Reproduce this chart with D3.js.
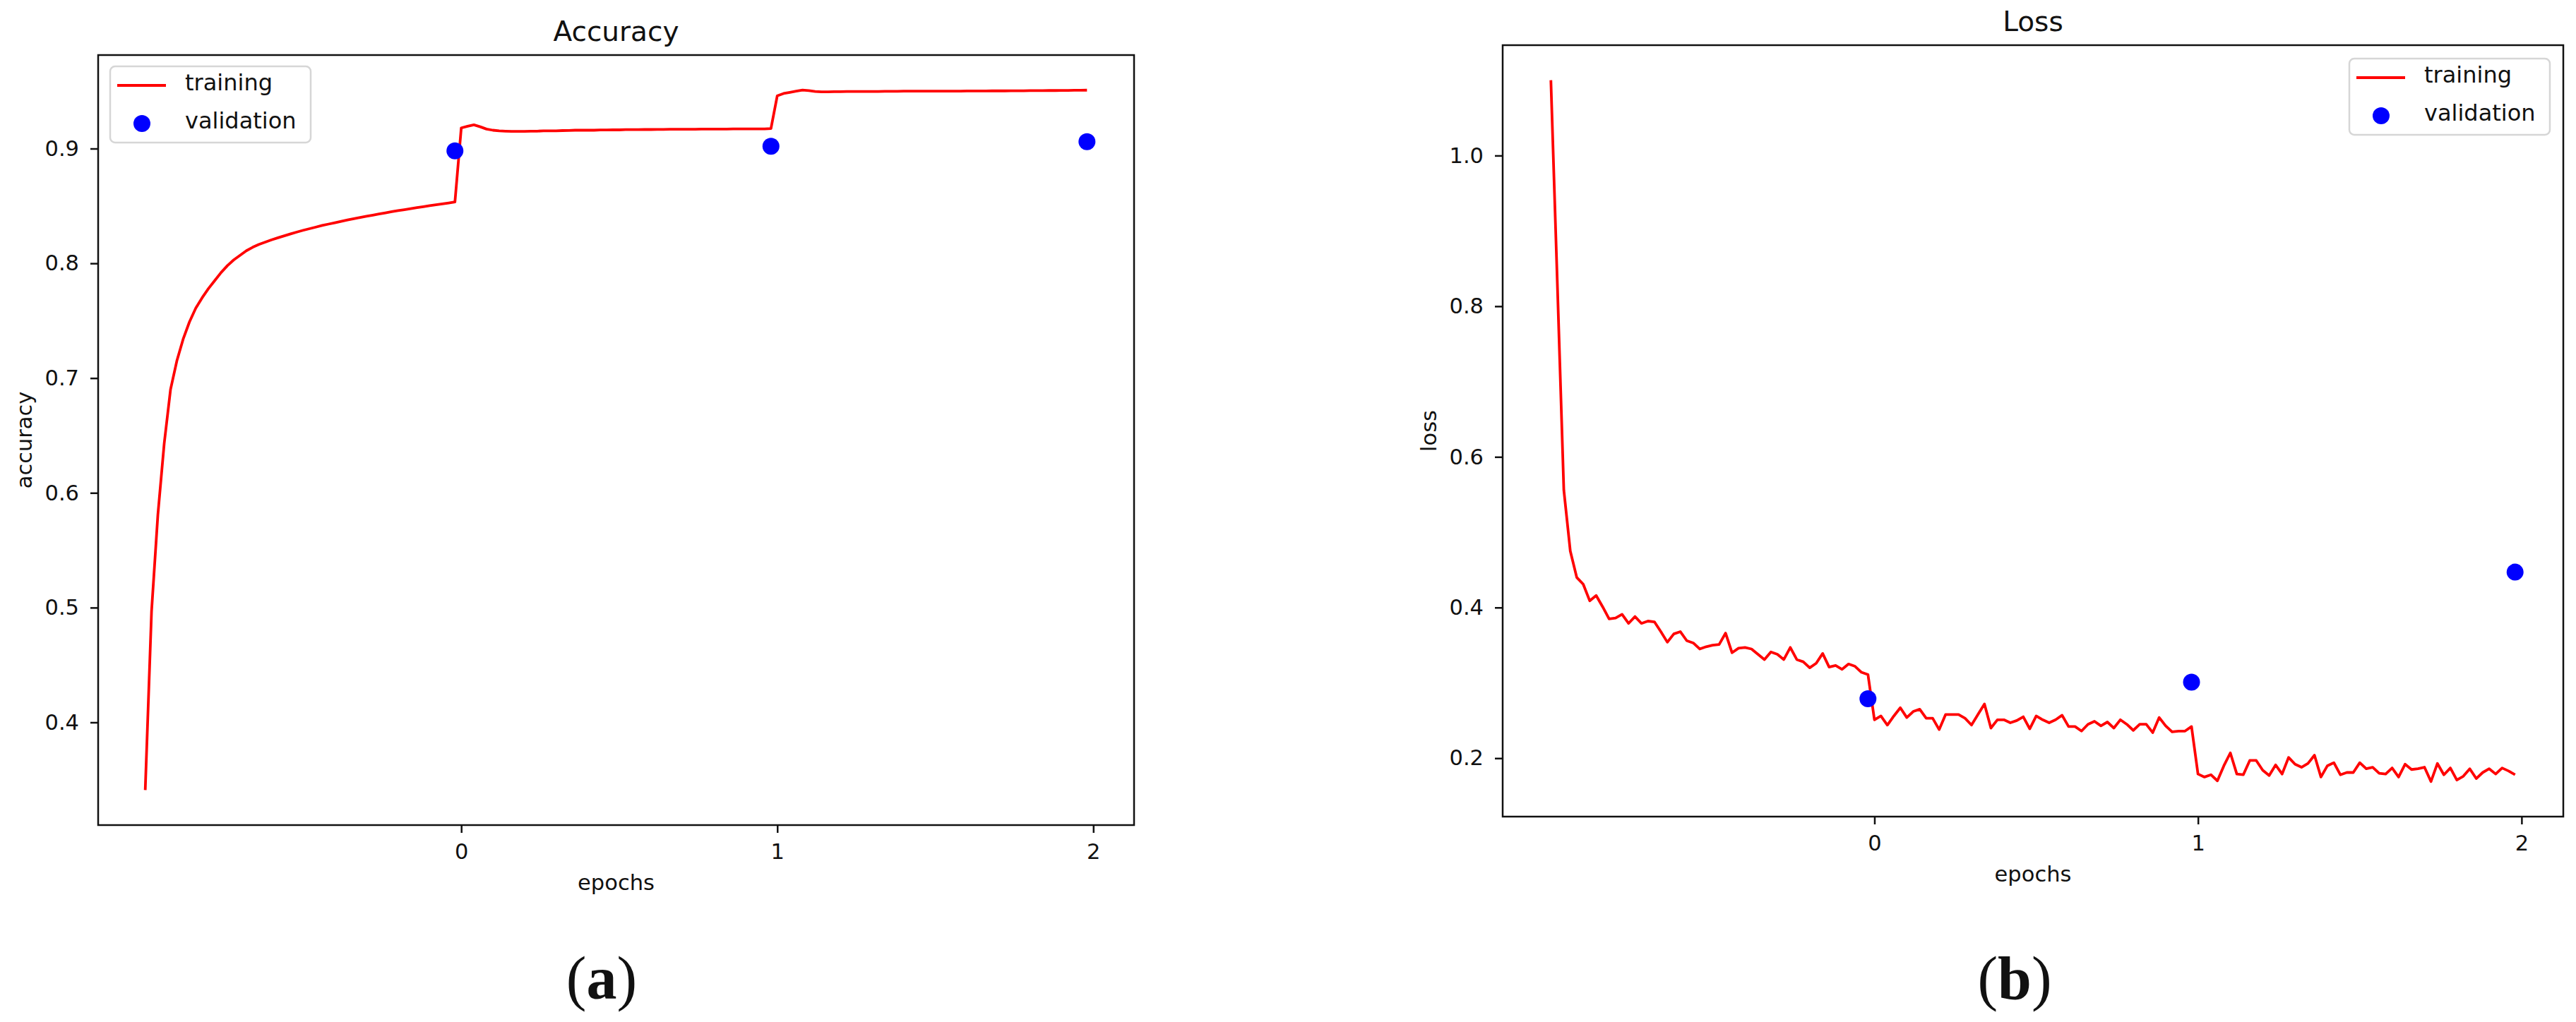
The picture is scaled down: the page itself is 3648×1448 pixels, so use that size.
<!DOCTYPE html>
<html><head><meta charset="utf-8">
<script src="https://cdn.jsdelivr.net/npm/d3@7"></script>
<style>
body{margin:0;background:#fff}
svg{display:block}
text{font-family:"DejaVu Sans",sans-serif;fill:#111}
</style>
</head><body>
<svg id="chart" width="3648" height="1448"></svg>
<script>
// ---------------- data ----------------
const stepsPerEpoch = 50;
const epochTicks = [0, 1, 2];
const validationEpochs = [-0.02, 0.98, 1.98];

const accTraining = [
  0.341,0.497,0.581,0.643,0.690,0.715,0.734,0.749,0.761,0.770,
  0.778,0.785,0.792,0.798,0.803,0.807,0.811,0.814,0.8165,0.8185,
  0.8205,0.8223,0.824,0.8257,0.8273,0.8288,0.8302,0.8316,0.833,0.8342,
  0.8354,0.8366,0.8378,0.8389,0.84,0.841,0.842,0.843,0.844,0.845,
  0.8459,0.8468,0.8477,0.8486,0.8494,0.8502,0.851,0.8518,0.8526,0.8535,
  0.918,0.9195,0.9207,0.919,0.917,0.916,0.9155,0.9152,0.915,0.915,
  0.915,0.9152,0.9152,0.9155,0.9155,0.9155,0.9157,0.9158,0.916,0.916,
  0.916,0.916,0.9162,0.9162,0.9163,0.9163,0.9165,0.9165,0.9165,0.9166,
  0.9166,0.9167,0.9167,0.9168,0.9168,0.9168,0.9169,0.9169,0.917,0.917,
  0.917,0.917,0.917,0.9171,0.9171,0.9171,0.9172,0.9172,0.9172,0.9175,
  0.946,0.948,0.949,0.950,0.951,0.9505,0.9498,0.9495,0.9495,0.9496,
  0.9496,0.9497,0.9497,0.9497,0.9498,0.9498,0.9498,0.9499,0.9499,0.9499,
  0.9500,0.9500,0.9500,0.9500,0.9500,0.9501,0.9501,0.9501,0.9501,0.9501,
  0.9502,0.9502,0.9502,0.9502,0.9503,0.9503,0.9503,0.9504,0.9504,0.9504,
  0.9505,0.9505,0.9505,0.9506,0.9506,0.9507,0.9507,0.9508,0.9508,0.9509
];
const accValidation = [0.898, 0.902, 0.906];

const lossTraining = [
  1.100,0.830,0.556,0.475,0.440,0.431,0.409,0.416,0.401,0.385,
  0.386,0.391,0.379,0.388,0.379,0.382,0.381,0.368,0.354,0.365,
  0.368,0.356,0.353,0.345,0.348,0.350,0.351,0.366,0.340,0.346,
  0.347,0.345,0.338,0.331,0.341,0.338,0.331,0.347,0.331,0.328,
  0.320,0.326,0.339,0.321,0.323,0.318,0.325,0.322,0.314,0.311,
  0.251,0.256,0.244,0.256,0.267,0.254,0.262,0.265,0.253,0.253,
  0.238,0.258,0.258,0.258,0.253,0.244,0.258,0.272,0.240,0.251,
  0.251,0.247,0.250,0.255,0.239,0.256,0.251,0.247,0.251,0.257,
  0.242,0.242,0.236,0.245,0.249,0.243,0.248,0.240,0.251,0.245,
  0.237,0.245,0.245,0.234,0.254,0.243,0.235,0.236,0.236,0.242,
  0.179,0.175,0.178,0.170,0.190,0.207,0.179,0.178,0.197,0.197,
  0.184,0.177,0.191,0.179,0.201,0.192,0.188,0.193,0.204,0.175,
  0.190,0.194,0.178,0.181,0.181,0.194,0.186,0.188,0.180,0.179,
  0.187,0.175,0.192,0.185,0.186,0.188,0.169,0.193,0.178,0.187,
  0.171,0.176,0.186,0.173,0.181,0.186,0.179,0.187,0.183,0.178
];
const lossValidation = [0.279, 0.301, 0.447];

const accTicks = [0.4, 0.5, 0.6, 0.7, 0.8, 0.9];
const lossTicks = [0.2, 0.4, 0.6, 0.8, 1.0];
const legendLabels = ["training", "validation"];
const titles = ["Accuracy", "Loss"];
const yLabels = ["accuracy", "loss"];
const xLabel = "epochs";
const captions = ["a", "b"];

// ---------------- layout ----------------
const svg = d3.select("#chart");
const RED = "#ff0000", BLUE = "#0000ff", INK = "#111";

const panels = [
  {train: accTraining, val: accValidation, ticks: accTicks, title: titles[0], ylabel: yLabels[0],
   caption: captions[0], box: {l: 139, r: 1606, t: 78, b: 1169}, legend: "left", capX: 852},
  {train: lossTraining, val: lossValidation, ticks: lossTicks, title: titles[1], ylabel: yLabels[1],
   caption: captions[1], box: {l: 2128, r: 3630, t: 64, b: 1157}, legend: "right", capX: 2853}
];

function padded(ext) {
  const m = (ext[1] - ext[0]) * 0.05;
  return [ext[0] - m, ext[1] + m];
}

panels.forEach(p => {
  const B = p.box;
  const trainX = p.train.map((_, i) => i / stepsPerEpoch - 1);
  const allX = trainX.concat(validationEpochs);
  const allY = p.train.concat(p.val);
  const x = d3.scaleLinear().domain(padded(d3.extent(allX))).range([B.l, B.r]);
  const y = d3.scaleLinear().domain(padded(d3.extent(allY))).range([B.b, B.t]);

  const g = svg.append("g");

  // axes
  const ax = g.append("g").attr("transform", `translate(0,${B.b})`)
    .call(d3.axisBottom(x).tickValues(epochTicks).tickFormat(d3.format("d")).tickSize(11).tickPadding(15));
  const ay = g.append("g").attr("transform", `translate(${B.l},0)`)
    .call(d3.axisLeft(y).tickValues(p.ticks).tickFormat(d3.format(".1f")).tickSize(11).tickPadding(16));
  [ax, ay].forEach(a => {
    a.select(".domain").remove();
    a.selectAll(".tick line").attr("stroke", INK).attr("stroke-width", 2.5);
    a.selectAll(".tick text").attr("font-size", 30.5).attr("font-family", "DejaVu Sans").attr("fill", INK);
  });

  // training line
  g.append("path")
    .datum(p.train.map((v, i) => [trainX[i], v]))
    .attr("fill", "none").attr("stroke", RED).attr("stroke-width", 3.8)
    .attr("stroke-linejoin", "round").attr("stroke-linecap", "butt")
    .attr("d", d3.line().x(d => x(d[0])).y(d => y(d[1])));

  // validation dots
  g.selectAll("circle.val").data(p.val).join("circle")
    .attr("class", "val")
    .attr("cx", (d, i) => x(validationEpochs[i])).attr("cy", d => y(d))
    .attr("r", 12).attr("fill", BLUE);

  // frame
  g.append("rect").attr("x", B.l).attr("y", B.t).attr("width", B.r - B.l).attr("height", B.b - B.t)
    .attr("fill", "none").attr("stroke", INK).attr("stroke-width", 2.5);

  // title
  g.append("text").attr("x", (B.l + B.r) / 2).attr("y", B.t - 20)
    .attr("text-anchor", "middle").attr("font-size", 39).text(p.title);
  // x label
  g.append("text").attr("x", (B.l + B.r) / 2).attr("y", B.b + 92)
    .attr("text-anchor", "middle").attr("font-size", 30.5).text(xLabel);
  // y label
  g.append("text").attr("transform", `translate(${B.l - 94},${(B.t + B.b) / 2}) rotate(-90)`)
    .attr("text-anchor", "middle").attr("font-size", 30.5).text(p.ylabel);

  // legend
  const lw = 284, lh = 108;
  const lx = p.legend === "left" ? B.l + 17 : B.r - 19 - lw;
  const ly = p.legend === "left" ? B.t + 16 : B.t + 19;
  const lg = g.append("g").attr("transform", `translate(${lx},${ly})`);
  lg.append("rect").attr("width", lw).attr("height", lh).attr("rx", 7)
    .attr("fill", "#fff").attr("fill-opacity", 0.8).attr("stroke", "#d6d6d6").attr("stroke-width", 2.5);
  lg.append("line").attr("x1", 10).attr("x2", 79).attr("y1", 27).attr("y2", 27)
    .attr("stroke", RED).attr("stroke-width", 3.8);
  lg.append("circle").attr("cx", 45).attr("cy", 81).attr("r", 12).attr("fill", BLUE);
  lg.selectAll("text.lt").data(legendLabels).join("text").attr("class", "lt")
    .attr("x", 106).attr("y", (d, i) => 34 + i * 54).attr("font-size", 32).text(d => d);

  // caption
  const cap = svg.append("text").attr("x", p.capX).attr("y", 1415).attr("text-anchor", "middle")
    .attr("font-size", 86).style("font-family", "'Liberation Serif', serif");
  cap.append("tspan").text("(");
  cap.append("tspan").attr("font-weight", "bold").text(p.caption);
  cap.append("tspan").text(")");
});
</script>
</body></html>
